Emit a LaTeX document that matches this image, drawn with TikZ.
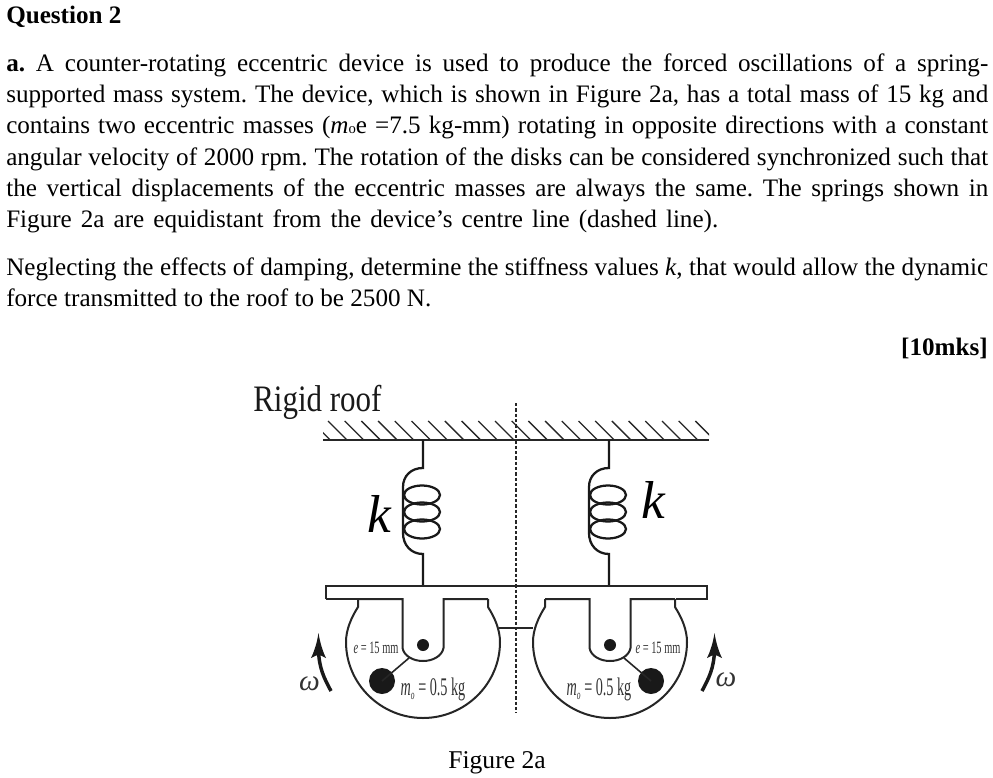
\documentclass[tikz,border=0pt]{standalone}
\usepackage{fontspec}
\usepackage{graphicx}
\setmainfont{Liberation Serif}
\frenchspacing
\newcommand{\jline}[1]{\makebox[736.5pt][s]{#1}}
\newcommand{\condensed}[2]{\scalebox{#1}[1]{#2}}
\tikzset{
  textline/.style={anchor=base west,inner sep=0pt,font=\fontsize{18.85}{20}\selectfont},
  figlabel/.style={inner sep=0pt,text=black!80},
  mech/.style={line width=1.5pt,draw=black!85},
  coil/.style={line width=1.7pt,draw=black!90},
  thin mech/.style={line width=1.2pt,draw=black!85},
  hatch/.style={line width=1pt,draw=black!85},
  spinarrow/.style={line width=2.6pt,draw=black!90},
  centreline/.style={line width=1.4pt,draw=black!85,dash pattern=on 2.4pt off 1.6pt},
}
\newcommand{\coilspring}[1]{%
  \begin{scope}[shift={(#1,0)}]
    \draw[coil] (0,440) -- (0,468) .. controls (-12,468) and (-20,476) .. (-20,487)
      -- (-20,533) .. controls (-20,545) and (-12,554) .. (0,554) -- (0,586);
    \draw[coil] (-1,495) ellipse [x radius=18,y radius=9.5];
    \draw[coil] (-1,512) ellipse [x radius=18,y radius=9.5];
    \draw[coil] (-1,529) ellipse [x radius=18,y radius=9.5];
  \end{scope}}
\newcommand{\slotdisk}[1]{%
  \begin{scope}[shift={(#1,0)}]
    \draw[mech] (-65,599) -- (-65,607) .. controls (-72,618) and (-77,630) .. (-77,642)
      .. controls (-77,684) and (-42,718) .. (0,718)
      .. controls (42,718) and (77,684) .. (77,642)
      .. controls (77,630) and (72,618) .. (65,607) -- (65,599);
    \draw[mech] (-65,599) -- (-20.5,599) -- (-20.5,648)
      .. controls (-19,656) and (-10,661) .. (0,661)
      .. controls (10,661) and (19,656) .. (20.5,648) -- (20.5,599) -- (65,599);
    \fill[black!90] (0,645) circle [radius=6];
  \end{scope}}
\begin{document}
\begin{tikzpicture}[x=0.75pt,y=-0.75pt]
\useasboundingbox (0,0) rectangle (993,778);
\fill[white] (0,0) rectangle (993,778);

\node[textline,font=\fontsize{18.85}{20}\selectfont\bfseries] (title) at (6,23) {Question 2};
\node[textline] (l1) at (6,71) {\jline{\textbf{a.} A counter-rotating eccentric device is used to produce the forced oscillations of a spring-}};
\node[textline] (l2) at (6,102) {\jline{supported mass system. The device, which is shown in Figure 2a, has a total mass of 15 kg and}};
\node[textline] (l3) at (6,133) {\jline{contains two eccentric masses (\textit{m}{\fontsize{11}{12}\selectfont o}e =7.5 kg-mm) rotating in opposite directions with a constant}};
\node[textline] (l4) at (6,165) {\jline{angular velocity of 2000 rpm. The rotation of the disks can be considered synchronized such that}};
\node[textline] (l5) at (6,196) {\jline{the vertical displacements of the eccentric masses are always the same. The springs shown in}};
\node[textline] (l6) at (6,227) {\makebox[534pt][s]{Figure 2a are equidistant from the device’s centre line (dashed line).}};
\node[textline] (l7) at (6,275) {\jline{Neglecting the effects of damping, determine the stiffness values \textit{k}, that would allow the dynamic}};
\node[textline] (l8) at (6,306) {force transmitted to the roof to be 2500 N.};
\node[textline,anchor=base east,font=\fontsize{18.85}{20}\selectfont\bfseries] (marks) at (988,355) {[10mks]};

% roof
\draw[mech] (323,440) -- (709,440);
\begin{scope}
  \clip (323,418) rectangle (709,440);
  \foreach \hx in {311.3,328,...,700}
    \draw[hatch] (\hx,421) -- (\hx+19,440);
\end{scope}

% centre line
\draw[centreline] (516,403) -- (516,713);

% springs
\coilspring{423}
\coilspring{609}

% plate and disks
\draw[mech] (326,599) -- (326,586) -- (707,586) -- (707,599) -- (676,599);
\draw[mech] (326,599) -- (358,599);
\slotdisk{423}
\slotdisk{610}
\draw[mech] (499,627.5) -- (533,627.5);

% masses
\fill[black!90] (382,681) circle [radius=13];
\fill[black!90] (651,681) circle [radius=13];
\draw[thin mech] (382,681) -- (409,658);
\draw[thin mech] (651,681) -- (624,658);

% spin arrows
\draw[spinarrow] (331,691) .. controls (324,678) and (319,668) .. (318.5,650);
\fill[black!90] (318.5,633) .. controls (320,643) and (323,652) .. (326,658)
  .. controls (322,656) and (320,655) .. (318.5,655)
  .. controls (317,655) and (315,656) .. (311,658)
  .. controls (314,652) and (317,643) .. (318.5,633) -- cycle;
\draw[spinarrow] (702,691) .. controls (709,678) and (714,668) .. (714.5,650);
\fill[black!90] (714.5,633) .. controls (716,643) and (719,652) .. (722,658)
  .. controls (718,656) and (716,655) .. (714.5,655)
  .. controls (713,655) and (711,656) .. (707,658)
  .. controls (710,652) and (713,643) .. (714.5,633) -- cycle;

% labels
\node[figlabel,anchor=base west,text=black!90] (roof) at (253,411) {\fontsize{28}{30}\selectfont\condensed{0.83}{Rigid roof}};
\node[figlabel,text=black] (kleft) at (379,514) {\fontsize{40}{44}\selectfont\itshape k};
\node[figlabel,text=black] (kright) at (653,500) {\fontsize{40}{44}\selectfont\itshape k};
\node[figlabel] (eleft) at (376,648) {\fontsize{13}{14}\selectfont\condensed{0.6}{\textit{e} = 15 mm}};
\node[figlabel] (eright) at (658,648) {\fontsize{13}{14}\selectfont\condensed{0.6}{\textit{e} = 15 mm}};
\node[figlabel] (mleft) at (433,689) {\fontsize{19}{21}\selectfont\condensed{0.56}{\textit{m}\raisebox{-3pt}{\fontsize{10}{11}\selectfont\textit{o}} = 0.5 kg}};
\node[figlabel] (mright) at (599,689) {\fontsize{19}{21}\selectfont\condensed{0.56}{\textit{m}\raisebox{-3pt}{\fontsize{10}{11}\selectfont\textit{o}} = 0.5 kg}};
\node[figlabel] (wleft) at (309.5,684) {\fontsize{22}{24}\selectfont\itshape ω};
\node[figlabel] (wright) at (726,680) {\fontsize{22}{24}\selectfont\itshape ω};
\node[textline,anchor=base,font=\fontsize{19.2}{20}\selectfont] (caption) at (497,768) {Figure 2a};
\end{tikzpicture}
\end{document}
